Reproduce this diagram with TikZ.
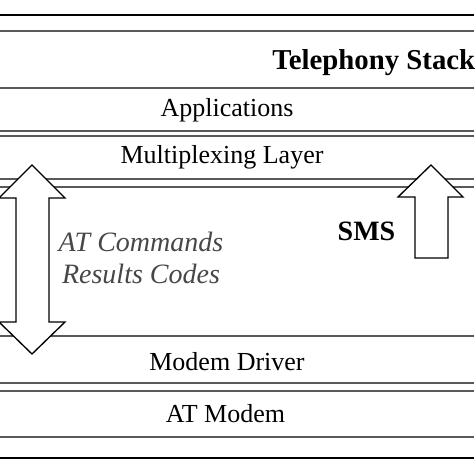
\documentclass[tikz,border=0pt]{standalone}
\usepackage{fontspec}
\setmainfont{Liberation Serif}

\tikzset{
  rimline/.style={line width=2pt,color=black},
  layerline/.style={line width=1.1pt,color=black!65},
  arrowbox/.style={line width=1pt,fill=white,line join=miter},
  layertext/.style={font=\fontsize{19.5}{22}\selectfont,anchor=base,inner sep=0pt},
  cmdtext/.style={font=\fontsize{21}{24}\selectfont\itshape,text=black!72,anchor=base,inner sep=0pt},
  boldtext/.style={font=\fontsize{21}{24}\selectfont\bfseries,inner sep=0pt}
}

\begin{document}
\begin{tikzpicture}[x=0.75pt,y=0.75pt,yscale=-1,xscale=1]
\useasboundingbox (0,0) rectangle (474,474);

%Straight Lines (stack frame)
\draw [rimline] (0,15) -- (474,15);
\draw [layerline] (0,31) -- (474,31);
%Straight Lines (layer borders)
\draw [layerline] (0,88) -- (474,88);
\draw [layerline] (0,131) -- (474,131);
\draw [layerline] (0,136) -- (474,136);
\draw [layerline] (0,179) -- (474,179);
\draw [layerline] (0,187) -- (474,187);
\draw [layerline] (0,336) -- (474,336);
\draw [layerline] (0,383) -- (474,383);
\draw [layerline] (0,391) -- (474,391);
\draw [layerline] (0,437) -- (474,437);
\draw [rimline] (0,458) -- (474,458);

%Shape: Double Arrow (AT commands / result codes)
\draw [arrowbox] (32,165) -- (65,198) -- (49,198) -- (49,322) -- (65,322) -- (32,354) -- (-1,322) -- (16,322) -- (16,198) -- (-1,198) -- cycle ;
%Shape: Up Arrow (SMS)
\draw [arrowbox] (431,165) -- (463,197) -- (448,197) -- (448,258) -- (415,258) -- (415,197) -- (398,197) -- cycle ;

% Text Node
\node [boldtext,font=\fontsize{21.6}{24}\selectfont\bfseries,anchor=base west] (stack) at (272,70) {Telephony Stack};
% Text Node
\node [layertext] (apps) at (227,116.7) {Applications};
% Text Node
\node [layertext] (mux) at (222,163.3) {Multiplexing Layer};
% Text Node
\node [cmdtext] (atcmd) at (141,251.7) {AT Commands};
% Text Node
\node [cmdtext] (rescode) at (141,283.3) {Results Codes};
% Text Node
\node [boldtext,anchor=base] (sms) at (366.5,240.7) {SMS};
% Text Node
\node [layertext] (driver) at (227,370) {Modem Driver};
% Text Node
\node [layertext] (modem) at (225.5,422.3) {AT Modem};

\end{tikzpicture}
\end{document}
